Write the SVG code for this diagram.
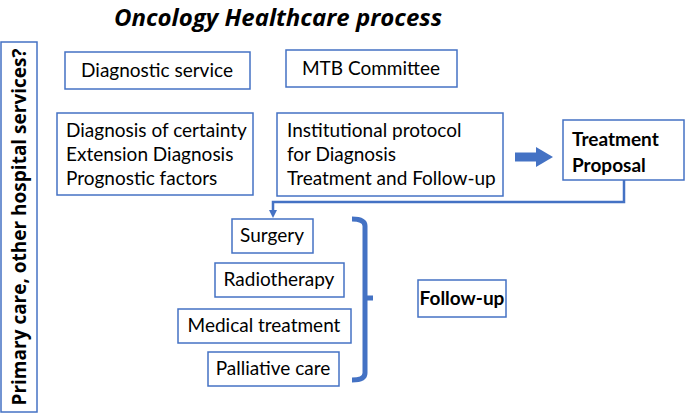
<svg xmlns="http://www.w3.org/2000/svg" width="685" height="416" viewBox="0 0 685 416">
<style>
.b{fill:#fff;stroke:#4472c4;stroke-width:1.5}
text{font-family:Lato,"Open Sans",sans-serif;font-size:19px;fill:#000}
.bd{font-weight:bold;font-size:19px}
</style>
<defs><marker id="a" markerWidth="8" markerHeight="8" refX="4" refY="4" orient="auto" markerUnits="userSpaceOnUse"><path d="M0,0L8,4L0,8z" fill="#4472c4"/></marker></defs>
<rect width="685" height="416" fill="#fff"/>
<text x="278" y="26" text-anchor="middle" style="font-family:'Open Sans',sans-serif;font-weight:bold;font-style:italic;font-size:24px">Oncology Healthcare process</text>
<g id="primary"><rect class="b" x="1" y="42" width="36" height="370"/><text transform="translate(26,227) rotate(-90)" text-anchor="middle" class="bd" style="font-family:'Open Sans',sans-serif">Primary care, other hospital services?</text></g>
<g id="diag"><rect class="b" x="65" y="52" width="185" height="37"/><text x="157" y="77" text-anchor="middle">Diagnostic service</text></g>
<g id="mtb"><rect class="b" x="286" y="50" width="171" height="37"/><text x="371" y="75" text-anchor="middle">MTB Committee</text></g>
<g id="diagdet"><rect class="b" x="57" y="113" width="196" height="82"/><text x="66" y="137">Diagnosis of certainty</text><text x="66" y="161">Extension Diagnosis</text><text x="66" y="185">Prognostic factors</text></g>
<g id="inst"><rect class="b" x="277" y="113" width="226" height="83"/><text x="287" y="137">Institutional protocol</text><text x="287" y="161">for Diagnosis</text><text x="287" y="185">Treatment and Follow-up</text></g>
<g id="tp"><rect class="b" x="563" y="120" width="121" height="60"/><text x="572" y="146" class="bd">Treatment</text><text x="572" y="172" class="bd">Proposal</text></g>
<g id="surgery"><rect class="b" x="232" y="219" width="81" height="34"/><text x="272" y="242" text-anchor="middle">Surgery</text></g>
<g id="radio"><rect class="b" x="215" y="263" width="129" height="34"/><text x="279" y="286" text-anchor="middle">Radiotherapy</text></g>
<g id="medical"><rect class="b" x="178" y="309" width="173" height="34"/><text x="264" y="332" text-anchor="middle">Medical treatment</text></g>
<g id="palliative"><rect class="b" x="208" y="352" width="131" height="34"/><text x="273" y="375" text-anchor="middle">Palliative care</text></g>
<g id="followup"><rect class="b" x="418" y="280" width="88" height="37"/><text x="462" y="305" text-anchor="middle" class="bd">Follow-up</text></g>
<g id="connectors" fill="none" stroke="#4472c4">
<path d="M515,157H538" stroke-width="9"/><path d="M536,147L553,157L536,167z" fill="#4472c4" stroke="none"/>
<path d="M624,180V202H273V214" stroke-width="2.5" marker-end="url(#a)"/>
<path d="M352,219Q365,219 365,226V373Q365,380 352,380M365,298H373" stroke-width="5"/>
</g>
</svg>
